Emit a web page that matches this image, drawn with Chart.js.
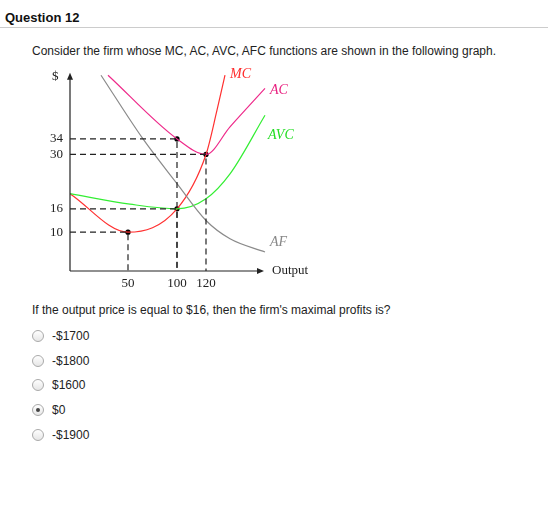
<!DOCTYPE html>
<html><head><meta charset="utf-8">
<script src="https://cdn.jsdelivr.net/npm/chart.js@4"></script>
<style>
body{margin:0;width:548px;height:506px;background:#fff;font-family:"Liberation Sans",Arial,sans-serif;font-size:12px;color:#222;position:relative;overflow:hidden}
.t{position:absolute;white-space:nowrap}
#q{left:5px;top:10px;font-weight:bold;font-size:13px;color:#111}
#rule{position:absolute;left:0;top:27px;width:548px;border-top:1px solid #ccc}
#wrap{position:absolute;left:40px;top:60px;width:300px;height:240px}
.opt{position:absolute;left:32px;font-size:12px}
.opt span{display:inline-block;width:10px;height:10px;border:1px solid #aaa;border-radius:50%;vertical-align:-2px;margin-right:8px;background:linear-gradient(#fff,#e6e6e6);position:relative}
.opt span.on:after{content:"";position:absolute;left:3px;top:3px;width:4px;height:4px;border-radius:50%;background:#444}
</style></head><body>
<div class="t" id="q">Question 12</div>
<div id="rule"></div>
<div class="t" style="left:32px;top:44px">Consider the firm whose MC, AC, AVC, AFC functions are shown in the following graph.</div>
<div id="wrap"><canvas id="c" width="300" height="240"></canvas></div>
<div class="t" style="left:32px;top:303px">If the output price is equal to $16, then the firm's maximal profits is?</div>
<div class="opt" style="top:329px"><span></span>-$1700</div>
<div class="opt" style="top:354px"><span></span>-$1800</div>
<div class="opt" style="top:378px"><span></span>$1600</div>
<div class="opt" style="top:403px"><span class="on"></span>$0</div>
<div class="opt" style="top:428px"><span></span>-$1900</div>
<script>
// x is horizontal position along the drawn output axis; tick labels give the output values
const xTickPos = [58, 107, 136];
const xTickLabels = ['50', '100', '120'];
const yTicks = [10, 16, 30, 34];

const mcX = [0, 58, 107, 136, 147, 155];
const mcY = [19.9, 10, 16, 30, 41.4, 50.4];
const acX = [38, 107, 136, 160, 195];
const acY = [50.4, 34, 30, 37.1, 47];
const avcX = [0, 60, 107, 136, 160, 195];
const avcY = [19.9, 17.2, 16, 18.6, 25, 40.1];
const afX = [31, 73, 107, 136, 160, 195];
const afY = [50.4, 34, 22.5, 13, 8.3, 4.9];

const dotX = [58, 107, 107, 136];
const dotY = [10, 16, 34, 30];

const pts = (xs, ys) => xs.map((x, i) => ({x, y: ys[i]}));
const curve = (xs, ys, color) => ({type: 'line', data: pts(xs, ys), borderColor: color, borderWidth: 1.2,
  pointRadius: 0, cubicInterpolationMode: 'monotone', fill: false});
const guide = i => ({type: 'line', data: [{x: 0, y: dotY[i]}, {x: dotX[i], y: dotY[i]}, {x: dotX[i], y: 0}],
  borderColor: '#222', borderWidth: 1.2, borderDash: [6, 4], pointRadius: 0, tension: 0});

const labels = {
  id: 'labels',
  afterDraw(chart) {
    const {ctx, scales: {x, y}} = chart;
    const ox = x.getPixelForValue(0), oy = y.getPixelForValue(0);
    ctx.save();
    ctx.strokeStyle = '#222'; ctx.fillStyle = '#222'; ctx.lineWidth = 1.2;
    // axes with arrows
    const top = y.getPixelForValue(50), right = x.getPixelForValue(190);
    ctx.beginPath(); ctx.moveTo(ox, oy); ctx.lineTo(ox, top); ctx.moveTo(ox, oy); ctx.lineTo(right, oy); ctx.stroke();
    ctx.beginPath(); ctx.moveTo(ox, top - 4); ctx.lineTo(ox - 3, top + 3); ctx.lineTo(ox + 3, top + 3); ctx.fill();
    ctx.beginPath(); ctx.moveTo(right + 4, oy); ctx.lineTo(right - 3, oy - 3); ctx.lineTo(right - 3, oy + 3); ctx.fill();
    ctx.font = '13px "Liberation Serif", serif';
    ctx.textAlign = 'right'; ctx.textBaseline = 'middle';
    yTicks.forEach(v => ctx.fillText(v, ox - 7, y.getPixelForValue(v)));
    ctx.textAlign = 'center'; ctx.textBaseline = 'top';
    xTickPos.forEach((p, i) => ctx.fillText(xTickLabels[i], x.getPixelForValue(p), oy + 6));
    ctx.textAlign = 'left'; ctx.textBaseline = 'middle';
    ctx.fillText('$', 12, y.getPixelForValue(50));
    ctx.fillText('Output', x.getPixelForValue(202), oy);
    ctx.font = 'italic 14px "Liberation Serif", serif';
    [['MC', '#ff2a2a', 160, 50.6], ['AC', '#e8207f', 200, 46.5], ['AVC', '#22dd22', 198, 35], ['AF', '#888', 200, 7.5]]
      .forEach(([t, c, px, py]) => { ctx.fillStyle = c; ctx.fillText(t, x.getPixelForValue(px), y.getPixelForValue(py)); });
    ctx.restore();
  }
};

new Chart(document.getElementById('c'), {
  data: {datasets: [
    guide(0), guide(1), guide(2), guide(3),
    curve(afX, afY, '#8a8a8a'),
    curve(avcX, avcY, '#33ee33'),
    curve(acX, acY, '#ee2a8a'),
    curve(mcX, mcY, '#ff3030'),
    {type: 'scatter', data: pts(dotX, dotY), backgroundColor: '#000', pointRadius: 2.6}
  ]},
  options: {
    responsive: false, animation: false,
    layout: {padding: {left: 30, right: 70, top: 9, bottom: 29}},
    plugins: {legend: {display: false}, tooltip: {enabled: false}},
    scales: {
      x: {type: 'linear', min: 0, max: 200, display: false},
      y: {type: 'linear', min: 0, max: 52, display: false}
    }
  },
  plugins: [labels]
});
</script>
</body></html>
